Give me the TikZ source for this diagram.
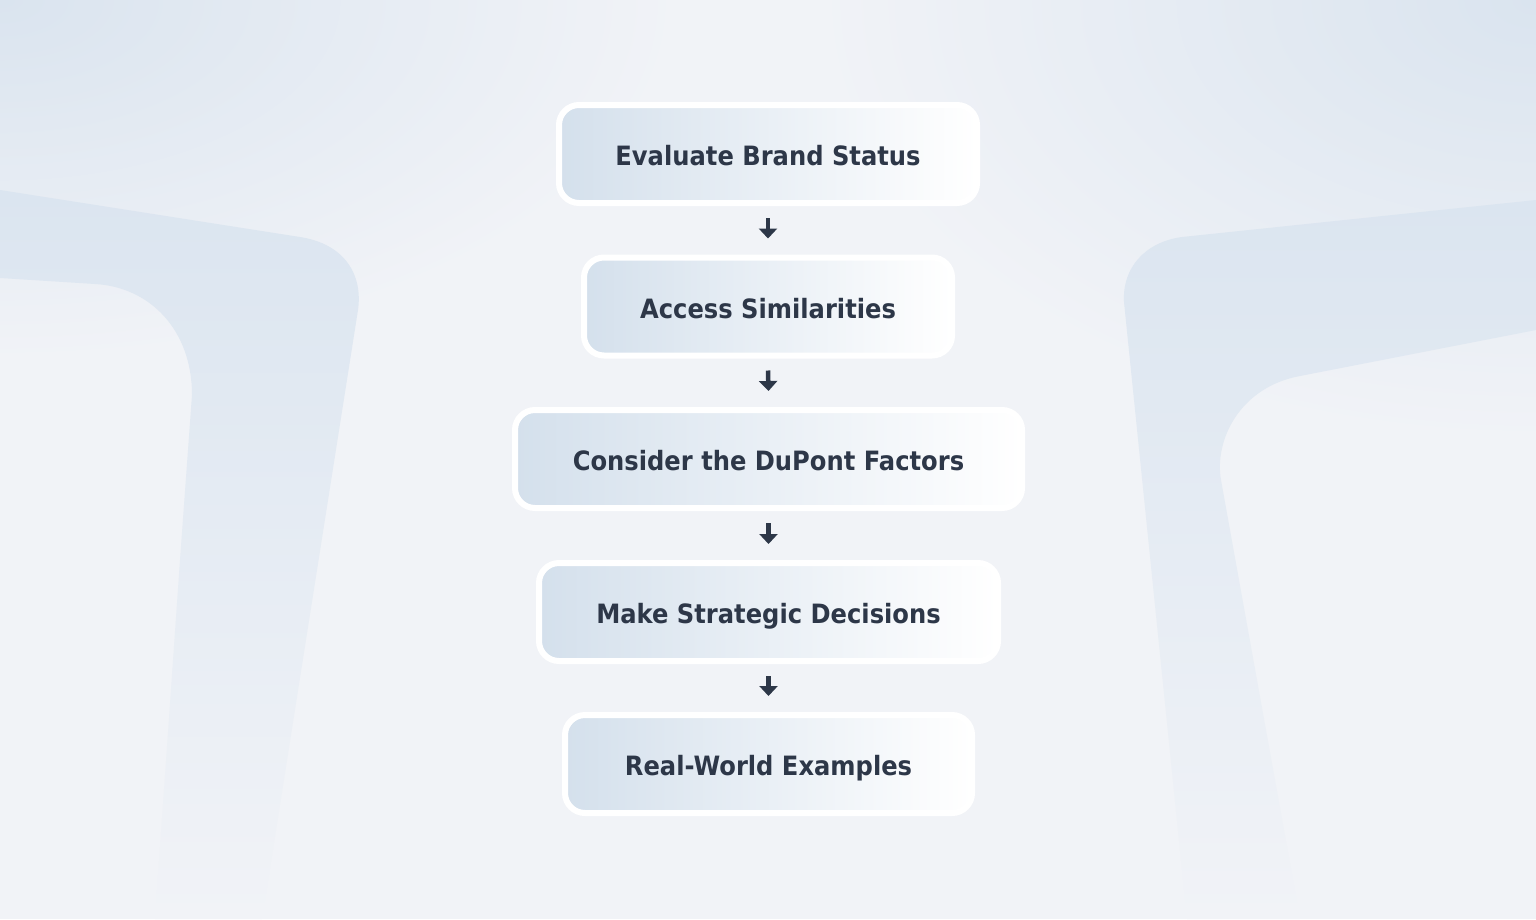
\documentclass[tikz,border=0pt]{standalone}
\usepackage{fontspec}
\setmainfont{DejaVu Sans}
\newfontfamily\stepfont{DejaVu Sans Bold}[FakeStretch=0.91]
\usetikzlibrary{arrows.meta,calc}
\definecolor{bg}{HTML}{F1F3F7}
\definecolor{glow}{HTML}{DAE4EF}
\definecolor{band}{HTML}{DBE5F0}
\definecolor{boxl}{HTML}{D4E0EC}
\definecolor{ink}{HTML}{2D3748}
\begin{document}
\begin{tikzpicture}[x=1pt,y=1pt,
  stepbox/.style={draw=white, line width=6pt, rounded corners=20pt,
    left color=boxl, right color=white, minimum height=98pt,
    text=ink, font=\stepfont\fontsize{26.6pt}{30pt}\selectfont,
    text height=23.4pt, text depth=0pt, inner sep=0pt},
  flow/.style={draw=ink, line width=4.5pt, -{Triangle[width=18pt,length=10pt]}},
  bandshade/.style={top color=band, middle color=band!60!bg, bottom color=bg}]
\useasboundingbox (0,-919) rectangle (1536,0);
\clip (0,-919) rectangle (1536,0);
% background
\fill[bg] (0,-919) rectangle (1536,0);
\begin{scope}
  \clip (0,-919) rectangle (768,0);
  \shade[inner color=glow, outer color=bg] (0,0) ellipse (680 and 360);
\end{scope}
\begin{scope}
  \clip (768,-919) rectangle (1536,0);
  \shade[inner color=glow, outer color=bg] (1536,0) ellipse (720 and 440);
\end{scope}
% left decorative band
\shade[bandshade] (0,-190) -- (300,-237) .. controls (345,-244) and (363,-275) .. (358,-310)
  -- (262,-919) -- (155,-919) -- (180,-560) -- (192,-395)
  .. controls (192,-330) and (150,-287) .. (95,-284) -- (0,-278) -- cycle;
% right decorative band
\shade[bandshade] (1536,-200) -- (1182,-237) .. controls (1145,-242) and (1122,-268) .. (1124,-302)
  -- (1187,-919) -- (1300,-919) -- (1221,-480)
  .. controls (1214,-440) and (1240,-387) .. (1300,-376) -- (1536,-330) -- cycle;
% steps
\node[stepbox, minimum width=418pt] (s1) at (768,-154) {Evaluate Brand Status};
\node[stepbox, minimum width=368pt] (s2) at (768,-306.5) {Access Similarities};
\node[stepbox, minimum width=507pt] (s3) at (768.5,-459) {Consider the DuPont Factors};
\node[stepbox, minimum width=459pt] (s4) at (768.5,-612) {Make Strategic Decisions};
\node[stepbox, minimum width=407pt] (s5) at (768.5,-764) {Real-World Examples};
% arrows
\draw[flow] ($(s1.south)+(0,-12)$) -- ($(s2.north)+(0,16)$);
\draw[flow] ($(s2.south)+(0,-12)$) -- ($(s3.north)+(0,16)$);
\draw[flow] ($(s3.south)+(0,-12)$) -- ($(s4.north)+(0,16)$);
\draw[flow] ($(s4.south)+(0,-12)$) -- ($(s5.north)+(0,16)$);
\end{tikzpicture}
\end{document}
